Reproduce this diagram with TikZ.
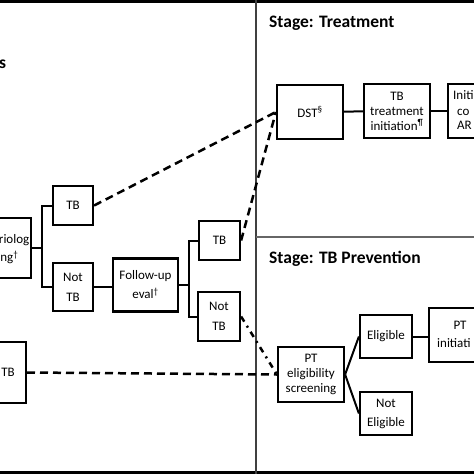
\documentclass[tikz,border=0pt]{standalone}
\usepackage{fontspec}
\setmainfont{Carlito}
\usepackage{xcolor}
\usetikzlibrary{arrows.meta}

\begin{document}
\begin{tikzpicture}[x=1pt,y=-1pt,
  box/.style={draw,line width=2.2pt,inner sep=0pt,align=center,
    font=\fontsize{13}{19}\selectfont},
  tight/.style={font=\fontsize{13}{15}\selectfont},
  label/.style={inner sep=0pt,font=\fontsize{13}{15}\selectfont},
  link/.style={line width=2pt},
  dashlink/.style={line width=2.5pt,dash pattern=on 8pt off 5pt},
  dotlink/.style={line width=2.5pt,dash pattern=on 6pt off 5pt on 2pt off 5pt},
  stage/.style={inner sep=0pt,anchor=base west,
    font=\fontsize{17.5}{20}\selectfont\bfseries}]
\useasboundingbox (0,0) rectangle (474,474);
\scope
\clip (0,0) rectangle (474,474);
% frame
\draw[line width=3pt] (0,1) -- (474,1);
\draw[line width=3pt] (0,472.5) -- (474,472.5);
\draw[line width=1.5pt,black!75] (256,0) -- (256,474);
\draw[line width=1.2pt,black!60] (256,237) -- (474,237);
% stage titles
\node[stage] (diag) at (-1,68) {s};
\node[stage] (treat) at (269,27) {Stage: Treatment};
\node[stage] (prev) at (269,263) {Stage: TB Prevention};
% diagnosis
\node[box,minimum width=80pt,minimum height=60pt,anchor=east] (bact) at (32,248) {};
\node[label,anchor=mid east] (bact1) at (29.5,241) {riolog};
\node[label,anchor=mid east] (bact2) at (18.5,259) {ng\textsuperscript{\textdagger}};
\node[box,minimum width=40pt,minimum height=39pt] (tb1) at (73,205.5) {TB};
\node[box,minimum width=40pt,minimum height=48pt,font=\fontsize{13}{20}\selectfont] (nottb1) at (73,287) {Not\\TB};
\node[box,minimum width=65pt,minimum height=53pt] (fu) at (145.5,285) {Follow-up\\eval\textsuperscript{\textdagger}};
\node[box,minimum width=41pt,minimum height=39pt] (tb2) at (219.5,240.5) {TB};
\node[box,minimum width=42pt,minimum height=49pt,font=\fontsize{13}{20}\selectfont] (nottb2) at (219,316.5) {Not\\TB};
\node[box,minimum width=80pt,minimum height=61pt,anchor=east] (tb3) at (27,372.5) {};
\node[label,anchor=mid east] (tb3a) at (15,374) {TB};
\draw[link] (bact.east) -- ++(10,0) coordinate (j1);
\draw[link] (tb1.west) -| (j1) |- (nottb1.west);
\draw[link] (nottb1.east) -- (nottb1.east -| fu.west);
\draw[link] (fu.east) -- ++(10,0) coordinate (j2);
\draw[link] (tb2.west) -| (j2) |- (nottb2.west);
% treatment
\node[box,minimum width=66pt,minimum height=54pt] (dst) at (310,112) {DST\textsuperscript{\S}};
\node[box,tight,minimum width=66pt,minimum height=54pt] (tbt) at (397,111) {TB\\treatment\\initiation\textsuperscript{\P}};
\node[box,minimum width=60pt,minimum height=54pt,anchor=west] (art) at (447,111) {};
\node[label,anchor=mid west] (art1) at (453,97) {Initi};
\node[label,anchor=mid west] (art2) at (457,113) {co};
\node[label,anchor=mid west] (art3) at (457,127) {AR};
\draw[link] (dst) -- (tbt);
\draw[link] (tbt.east) -- (tbt.east -| art.west);
% prevention
\node[box,tight,minimum width=66pt,minimum height=55pt] (pte) at (311,374.5) {PT\\eligibility\\screening};
\node[box,minimum width=52pt,minimum height=43pt] (elig) at (386,336.5) {Eligible};
\node[box,minimum width=52pt,minimum height=43pt] (notelig) at (386,413.5) {Not\\Eligible};
\node[box,minimum width=62pt,minimum height=54pt] (pti) at (460,335) {};
\node[label,anchor=mid] (pti1) at (460,327) {PT};
\node[label,anchor=mid west] (pti2) at (437,345) {initiati};
\draw[link] (pte.east) -- (elig.west);
\draw[link] (pte.east) -- (notelig.west);
\draw[link] (elig.east) -- (elig.east -| pti.west);
% stage links
\draw[dashlink] (tb1.east) -- (dst.west);
\draw[dashlink] (tb2.east) -- (dst.west);
\draw[dashlink] (tb3.east) -- (pte.west);
\draw[dotlink] (nottb2.east) -- (pte.west);
\endscope
\end{tikzpicture}
\end{document}
